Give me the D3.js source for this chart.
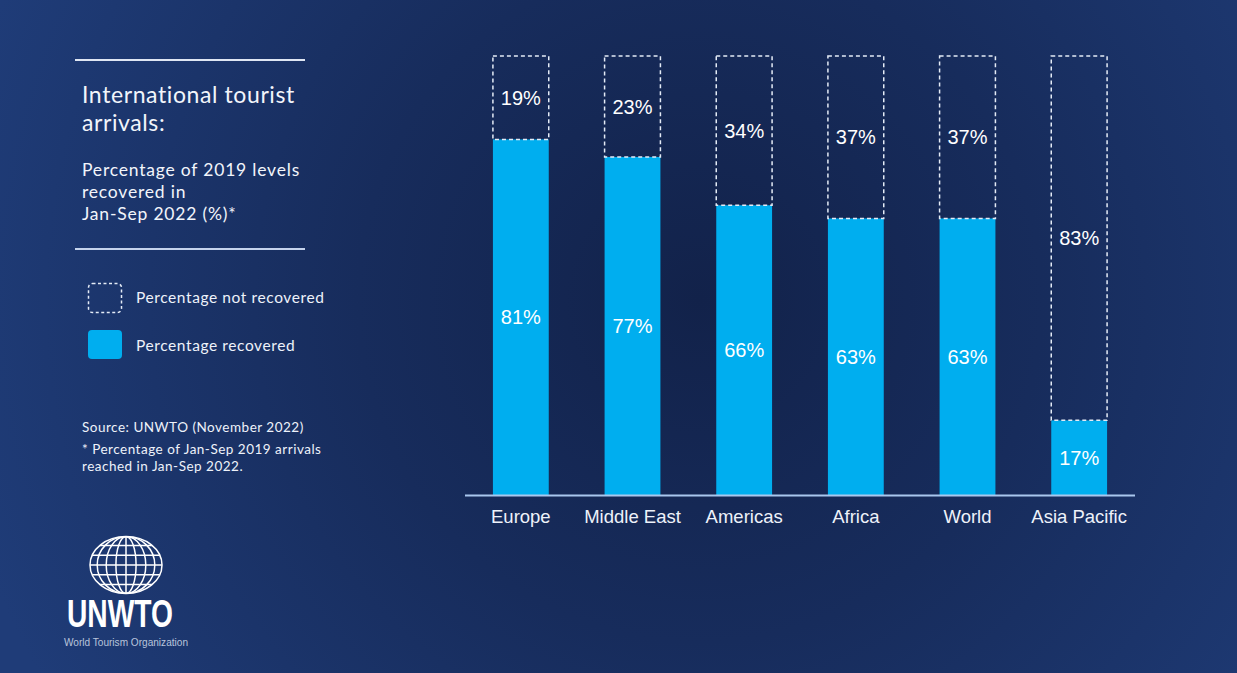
<!DOCTYPE html>
<html>
<head>
<meta charset="utf-8">
<script src="https://cdn.jsdelivr.net/npm/d3@7"></script>
<style>
  html, body { margin: 0; padding: 0; background: #1b3670; }
  svg { display: block; }
</style>
</head>
<body>
<svg id="chart" width="1237" height="673"></svg>
<script>
// ---- Data ----
const categories = ["Europe", "Middle East", "Americas", "Africa", "World", "Asia Pacific"];
const recovered = [81, 77, 66, 63, 63, 17];
const notRecovered = [19, 23, 34, 37, 37, 83];
const titleLines = ["International tourist", "arrivals:"];
const subtitleLines = ["Percentage of 2019 levels", "recovered in", "Jan-Sep 2022 (%)*"];
const legendLabels = ["Percentage not recovered", "Percentage recovered"];
const sourceLines = ["Source: UNWTO (November 2022)", "* Percentage of Jan-Sep 2019 arrivals", "reached in Jan-Sep 2022."];

const W = 1237, H = 673;
const svg = d3.select("#chart");
const defs = svg.append("defs");

// Background radial gradient
const grad = defs.append("radialGradient").attr("id", "bg")
  .attr("cx", 700).attr("cy", 300).attr("r", 760)
  .attr("gradientUnits", "userSpaceOnUse");
grad.append("stop").attr("offset", "0%").attr("stop-color", "#12224a");
grad.append("stop").attr("offset", "45%").attr("stop-color", "#172c5c");
grad.append("stop").attr("offset", "100%").attr("stop-color", "#1f3c78");
svg.append("rect").attr("width", W).attr("height", H).attr("fill", "url(#bg)");

// ---- Scales ----
const x = d3.scaleBand().domain(categories).range([465, 1135])
  .paddingInner(0.5).paddingOuter(0.25);
const y = d3.scaleLinear().domain([0, 100]).range([495, 56]);

const data = categories.map((c, i) => ({ c, r: recovered[i], n: notRecovered[i] }));
const chart = svg.append("g");

// Recovered bars
chart.selectAll("rect.rec").data(data).join("rect")
  .attr("class", "rec")
  .attr("x", d => x(d.c))
  .attr("width", x.bandwidth())
  .attr("y", d => y(d.r))
  .attr("height", d => y(0) - y(d.r))
  .attr("fill", "#00aeef");

// Not recovered dashed boxes
chart.selectAll("rect.nrec").data(data).join("rect")
  .attr("class", "nrec")
  .attr("x", d => x(d.c))
  .attr("width", x.bandwidth())
  .attr("y", d => y(d.r + d.n))
  .attr("height", d => y(d.r) - y(d.r + d.n))
  .attr("fill", "none")
  .attr("stroke", "#e4ebf6")
  .attr("stroke-width", 1.5)
  .attr("stroke-dasharray", "4,3");

const valFont = "'Liberation Sans', Arial, sans-serif";
// Value labels - recovered
chart.selectAll("text.rl").data(data).join("text")
  .attr("class", "rl")
  .attr("x", d => x(d.c) + x.bandwidth() / 2)
  .attr("y", d => (y(0) + y(d.r)) / 2)
  .attr("dy", "0.36em")
  .attr("text-anchor", "middle")
  .attr("font-family", valFont).attr("font-size", 20)
  .attr("fill", "#ffffff")
  .text(d => d.r + "%");

// Value labels - not recovered
chart.selectAll("text.nl").data(data).join("text")
  .attr("class", "nl")
  .attr("x", d => x(d.c) + x.bandwidth() / 2)
  .attr("y", d => (y(d.r) + y(d.r + d.n)) / 2)
  .attr("dy", "0.36em")
  .attr("text-anchor", "middle")
  .attr("font-family", valFont).attr("font-size", 20)
  .attr("fill", "#ffffff")
  .text(d => d.n + "%");

// Baseline
chart.append("line")
  .attr("x1", 465).attr("x2", 1135)
  .attr("y1", y(0) + 0.5).attr("y2", y(0) + 0.5)
  .attr("stroke", "#a9c7ee").attr("stroke-width", 2);

// Category axis (labels only)
const xAxis = d3.axisBottom(x).tickSize(0).tickPadding(14);
const ax = chart.append("g").attr("transform", `translate(0,${y(0) + 1})`).call(xAxis);
ax.select(".domain").remove();
ax.selectAll("text")
  .attr("font-family", valFont).attr("font-size", 18.5)
  .attr("fill", "#eef2fa");

// ---- Left panel ----
const panelFont = "Lato, 'Open Sans', sans-serif";
const left = svg.append("g");
left.append("line").attr("x1", 75).attr("x2", 305).attr("y1", 60).attr("y2", 60)
  .attr("stroke", "#dfe6f3").attr("stroke-width", 2);
left.append("line").attr("x1", 75).attr("x2", 305).attr("y1", 249).attr("y2", 249)
  .attr("stroke", "#c5d3ec").attr("stroke-width", 2);

left.selectAll("text.title").data(titleLines).join("text")
  .attr("class", "title")
  .attr("x", 82).attr("y", (d, i) => 103 + i * 28)
  .attr("font-family", panelFont).attr("font-size", 23)
  .attr("letter-spacing", 0.6)
  .attr("fill", "#f2f5fb")
  .text(d => d);

left.selectAll("text.sub").data(subtitleLines).join("text")
  .attr("class", "sub")
  .attr("x", 82).attr("y", (d, i) => 176 + i * 22)
  .attr("font-family", panelFont).attr("font-size", 17.5)
  .attr("letter-spacing", 0.8)
  .attr("fill", "#f2f5fb")
  .text(d => d);

// Legend
left.append("rect").attr("x", 88.5).attr("y", 283.5).attr("width", 33).attr("height", 29)
  .attr("rx", 4).attr("fill", "none")
  .attr("stroke", "#e4ebf6").attr("stroke-width", 1.5).attr("stroke-dasharray", "3,2.5");
left.append("rect").attr("x", 88).attr("y", 330).attr("width", 34).attr("height", 29)
  .attr("rx", 4).attr("fill", "#00aeef");
left.selectAll("text.leg").data(legendLabels).join("text")
  .attr("class", "leg")
  .attr("x", 136).attr("y", (d, i) => 303 + i * 48)
  .attr("font-family", panelFont).attr("font-size", 15.5)
  .attr("letter-spacing", 0.6)
  .attr("fill", "#eef2fa")
  .text(d => d);

// Source
left.selectAll("text.src").data(sourceLines).join("text")
  .attr("class", "src")
  .attr("x", 82).attr("y", (d, i) => i === 0 ? 432 : 454 + (i - 1) * 17)
  .attr("font-family", panelFont).attr("font-size", 13.5)
  .attr("letter-spacing", 0.5)
  .attr("fill", "#eef2fa")
  .text(d => d);

// ---- Logo ----
const logo = svg.append("g").attr("fill", "none").attr("stroke", "#ffffff").attr("stroke-width", 1.5);
const gx = 126, gy = 565, grx = 36, gry = 28.5;
defs.append("clipPath").attr("id", "globeClip")
  .append("ellipse").attr("cx", gx).attr("cy", gy).attr("rx", grx).attr("ry", gry);
logo.append("ellipse").attr("cx", gx).attr("cy", gy).attr("rx", grx).attr("ry", gry);
const globeInner = logo.append("g").attr("clip-path", "url(#globeClip)");
[0.28, 0.55, 0.8].forEach(f => {
  globeInner.append("ellipse").attr("cx", gx).attr("cy", gy).attr("rx", grx * f).attr("ry", gry);
});
globeInner.append("line").attr("x1", gx).attr("x2", gx).attr("y1", gy - gry).attr("y2", gy + gry);
[-0.68, -0.34, 0, 0.34, 0.68].forEach(f => {
  globeInner.append("line").attr("x1", gx - grx).attr("x2", gx + grx)
    .attr("y1", gy + gry * f).attr("y2", gy + gry * f);
});
svg.append("text").attr("x", 67).attr("y", 627)
  .attr("font-family", "'Liberation Sans Narrow', 'Liberation Sans', Arial, sans-serif")
  .attr("font-weight", "bold").attr("font-size", 38)
  .attr("textLength", 106).attr("lengthAdjust", "spacingAndGlyphs")
  .attr("fill", "#ffffff").text("UNWTO");
svg.append("text").attr("x", 64).attr("y", 646)
  .attr("font-family", "'Liberation Sans', Arial, sans-serif")
  .attr("font-size", 10.5)
  .attr("textLength", 124).attr("lengthAdjust", "spacingAndGlyphs")
  .attr("fill", "#b9c5dc").text("World Tourism Organization");
</script>
</body>
</html>
